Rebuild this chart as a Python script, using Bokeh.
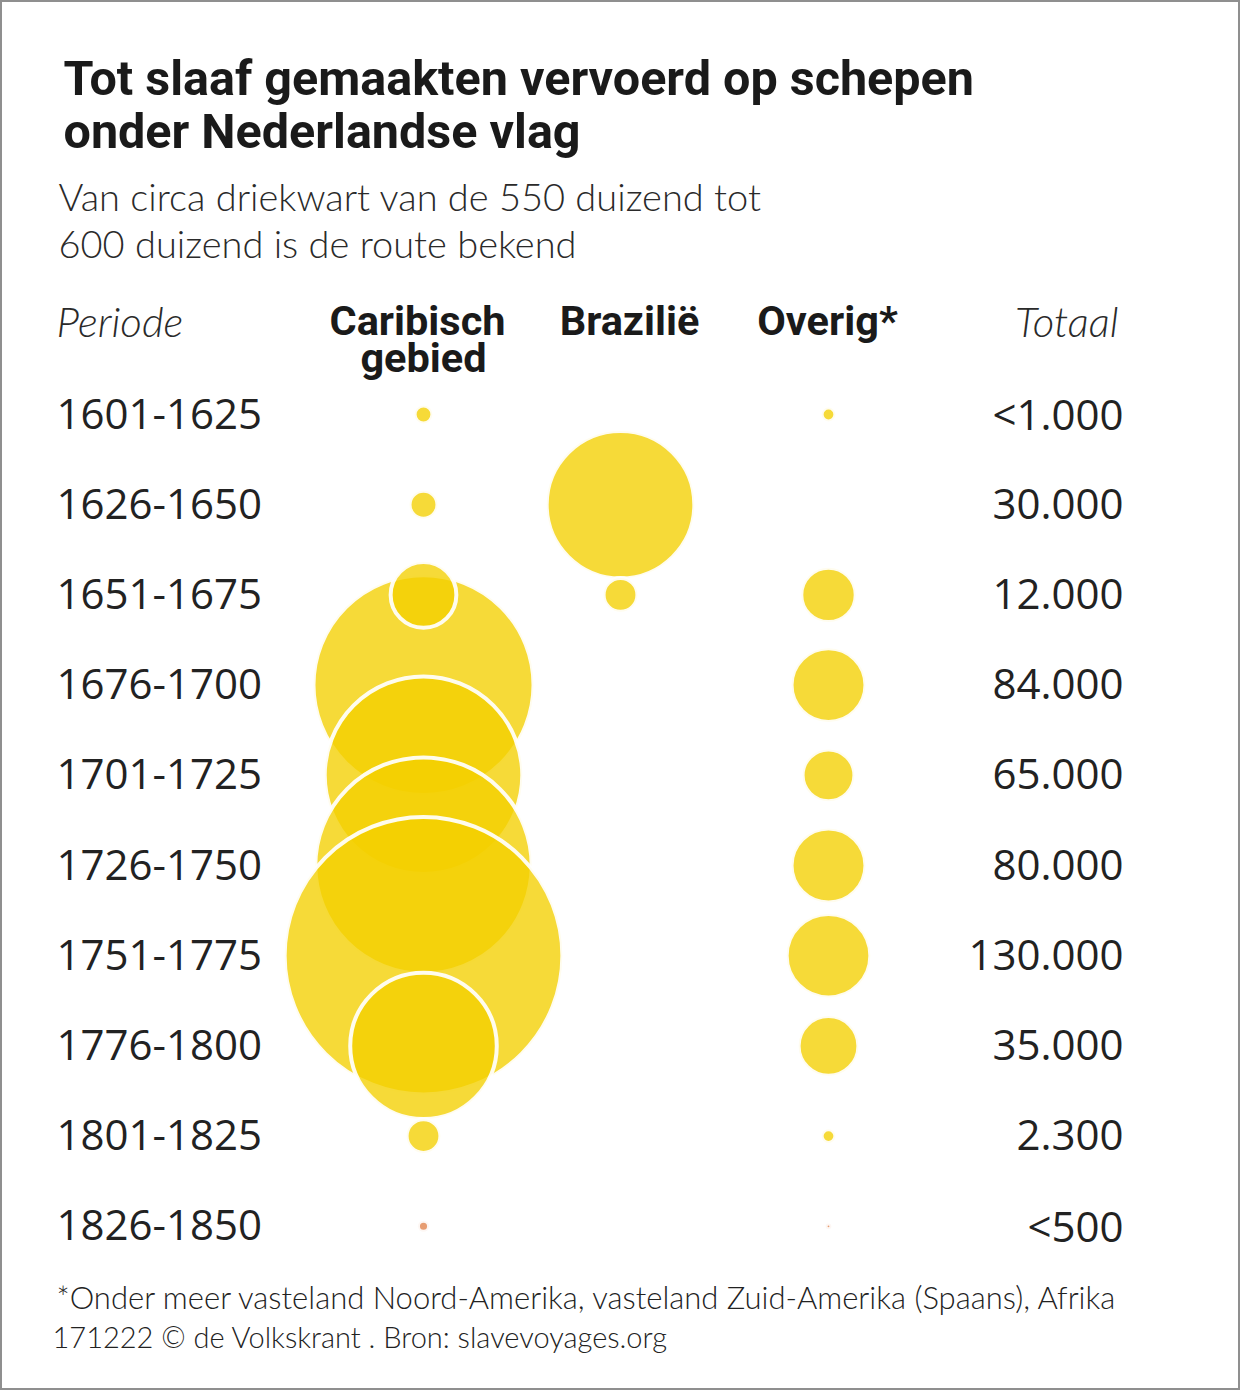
import math

from bokeh.core.properties import value
from bokeh.embed import file_html
from bokeh.models import ColumnDataSource, Label, Range1d
from bokeh.plotting import figure
from bokeh.resources import INLINE

# --- data -----------------------------------------------------------------
periods = ["1601-1625", "1626-1650", "1651-1675", "1676-1700", "1701-1725",
           "1726-1750", "1751-1775", "1776-1800", "1801-1825", "1826-1850"]
totals = ["<1.000", "30.000", "12.000", "84.000", "65.000",
          "80.000", "130.000", "35.000", "2.300", "<500"]

regions = ["Caribisch gebied", "Brazilië", "Overig*"]
# people transported per period and destination
caribisch = [300, 900, 6000, 73500, 59000, 71000, 118000, 32000, 1400, 80]
brazilie = [0, 32500, 1400, 0, 0, 0, 0, 0, 0, 0]
overig = [150, 0, 4000, 7700, 3600, 7700, 10000, 4900, 150, 5]

title_lines = ["Tot slaaf gemaakten vervoerd op schepen", "onder Nederlandse vlag"]
subtitle_lines = ["Van circa driekwart van de 550 duizend tot",
                  "600 duizend is de route bekend"]
footnote = "*Onder meer vasteland Noord-Amerika, vasteland Zuid-Amerika (Spaans), Afrika"
source = "171222 \u00a9 de Volkskrant . Bron: slavevoyages.org"

# --- layout ---------------------------------------------------------------
W, H = 1240, 1390
ROW_Y0, ROW_STEP = 414, 90.2
COL_X = {"Caribisch gebied": 423, "Brazilië": 620, "Overig*": 828}
PEOPLE_PER_PX2 = 6.3          # bubble area scale
STROKE = 4                    # white ring around each bubble
FILL = "#F4D000"
TINY = "#E0824A"               # very small counts
TEXT = "#222222"
BASE = -17                     # baseline correction for text in the flipped y range

p = figure(width=W, height=H, x_range=Range1d(0, W), y_range=Range1d(H, 0),
           output_backend="svg", toolbar_location=None, min_border=0)
p.axis.visible = False
p.grid.visible = False
p.background_fill_color = "white"
p.border_fill_color = "white"
p.outline_line_color = "#8f8f8f"
p.outline_line_width = 3

row_y = [ROW_Y0 + i * ROW_STEP for i in range(len(periods))]

# --- bubbles --------------------------------------------------------------
series = {"Caribisch gebied": caribisch, "Brazilië": brazilie, "Overig*": overig}
# drawing order within a column (later ones sit on top)
order = [0, 1, 3, 2, 4, 5, 6, 7, 8, 9]
bx, by, br, bc = [], [], [], []
for name in regions:
    vals = series[name]
    for i in order:
        v = vals[i]
        if v <= 0:
            continue
        bx.append(COL_X[name])
        by.append(row_y[i])
        # the fill inside the ring carries the area
        br.append(math.sqrt(v / PEOPLE_PER_PX2) + STROKE / 2)
        bc.append(TINY if v < 100 else FILL)

bubbles = ColumnDataSource(dict(x=bx, y=by, r=br, c=bc))
p.circle(x="x", y="y", radius="r", source=bubbles, fill_color="c",
         fill_alpha=0.78, line_color="white", line_width=STROKE, line_alpha=0.92)

# --- row labels and totals ------------------------------------------------
rows = ColumnDataSource(dict(y=[y + 16 + BASE for y in row_y], period=periods, total=totals))
p.text(x=56, y="y", text="period", source=rows, text_font=value("Open Sans"),
       text_font_size="42px", text_color=TEXT, text_baseline="alphabetic")
p.text(x=1123, y="y", text="total", source=rows, text_font=value("Open Sans"),
       text_font_size="42px", text_color=TEXT, text_align="right",
       text_baseline="alphabetic")

# --- titles ---------------------------------------------------------------
def label(x, y, text, font, size, style="normal", color=TEXT, align="left"):
    p.add_layout(Label(x=x, y=y + BASE, text=text, text_font=font, text_font_size=size,
                       text_font_style=style, text_color=color, text_align=align,
                       text_baseline="alphabetic"))

label(63, 95, title_lines[0], "Roboto", "48.5px", "bold", "#1a1a1a")
label(63, 148, title_lines[1], "Roboto", "48.5px", "bold", "#1a1a1a")
label(58, 212, subtitle_lines[0], "Lato Light", "38px", color="#2a2a2a")
label(58, 259, subtitle_lines[1], "Lato Light", "38px", color="#2a2a2a")

# column headers
label(56, 337, "Periode", "Lato Light", "42px", "italic", "#2a2a2a")
label(1118, 337, "Totaal", "Lato Light", "42px", "italic", "#2a2a2a", "right")
label(417, 337, "Caribisch", "Roboto", "41.5px", "bold", "#1a1a1a", "center")
label(423, 374, "gebied", "Roboto", "41.5px", "bold", "#1a1a1a", "center")
label(629, 337, "Brazilië", "Roboto", "41.5px", "bold", "#1a1a1a", "center")
label(827, 337, "Overig*", "Roboto", "41.5px", "bold", "#1a1a1a", "center")

# footnote and source
label(56, 1313, footnote, "Lato Light", "31px", color="#222222")
label(52, 1353, source, "Lato Light", "29px", color="#222222")

open("out.html", "w").write(file_html(p, INLINE))
